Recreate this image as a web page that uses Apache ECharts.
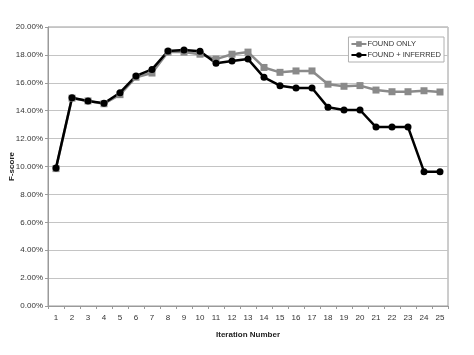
<!DOCTYPE html>
<html>
<head>
<meta charset="utf-8">
<script src="https://cdn.jsdelivr.net/npm/echarts@6/dist/echarts.min.js"></script>
<style>
  html, body { margin: 0; padding: 0; background: #fff; }
  #chart { width: 474px; height: 355px; }
</style>
</head>
<body>
<div id="chart"></div>
<script>
const iterations = ["1","2","3","4","5","6","7","8","9","10","11","12","13","14","15","16","17","18","19","20","21","22","23","24","25"];
// F-score in percent
const foundOnly = [9.85, 14.9, 14.7, 14.5, 15.15, 16.4, 16.7, 18.2, 18.2, 18.05, 17.7, 18.05, 18.2, 17.1, 16.75, 16.85, 16.85, 15.9, 15.75, 15.8, 15.48, 15.36, 15.36, 15.43, 15.34];
const foundInferred = [9.9, 14.93, 14.7, 14.53, 15.29, 16.49, 16.96, 18.28, 18.35, 18.26, 17.4, 17.56, 17.7, 16.39, 15.79, 15.63, 15.63, 14.24, 14.05, 14.05, 12.83, 12.83, 12.83, 9.63, 9.63];

const chart = echarts.init(document.getElementById("chart"), null, { renderer: "canvas" });

const font = "Liberation Sans, Arial, sans-serif";

chart.setOption({
  backgroundColor: "#fff",
  animation: false,
  textStyle: { fontFamily: font },
  grid: {
    left: 48, right: 26, top: 27, bottom: 49,
    outerBoundsMode: "none",
    containLabel: false,
    show: true, borderColor: "#9a9a9a", borderWidth: 1
  },
  legend: {
    orient: "vertical",
    right: 30, top: 37,
    padding: [3, 3, 3, 2],
    itemGap: 3,
    itemWidth: 15,
    itemHeight: 7,
    borderColor: "#b0b0b0",
    borderWidth: 1,
    backgroundColor: "#fff",
    textStyle: { fontFamily: font, fontSize: 7.5, color: "#333", padding: [0, 0, 0, -4] },
    data: ["FOUND ONLY", "FOUND + INFERRED"]
  },
  xAxis: {
    type: "category",
    data: iterations,
    boundaryGap: true,
    name: "Iteration Number",
    nameLocation: "middle",
    nameGap: 25,
    nameMoveOverlap: false,
    nameTextStyle: { fontFamily: font, fontSize: 8, fontWeight: "bold", color: "#222" },
    axisLine: { lineStyle: { color: "#9a9a9a", width: 1 } },
    axisTick: { show: true, length: 3, lineStyle: { color: "#9a9a9a" } },
    axisLabel: { fontFamily: font, fontSize: 8, color: "#333", margin: 8, interval: 0 },
    splitLine: { show: false }
  },
  yAxis: {
    type: "value",
    min: 0, max: 20, interval: 2,
    name: "F-score",
    nameLocation: "middle",
    nameGap: 32,
    nameMoveOverlap: false,
    nameRotate: 90,
    nameTextStyle: { fontFamily: font, fontSize: 8, fontWeight: "bold", color: "#222" },
    axisLine: { show: true, lineStyle: { color: "#9a9a9a", width: 1 } },
    axisTick: { show: true, length: 3, lineStyle: { color: "#9a9a9a" } },
    axisLabel: { fontFamily: font, fontSize: 8, color: "#333", margin: 5,
      formatter: (v) => v.toFixed(2) + "%" },
    splitLine: { lineStyle: { color: "#c4c4c4", width: 1 } }
  },
  series: [
    {
      name: "FOUND ONLY",
      type: "line",
      data: foundOnly,
      symbol: "rect",
      symbolSize: 7,
      lineStyle: { color: "#8a8a8a", width: 2.5 },
      itemStyle: { color: "#8a8a8a" }
    },
    {
      name: "FOUND + INFERRED",
      type: "line",
      data: foundInferred,
      symbol: "circle",
      symbolSize: 7,
      lineStyle: { color: "#000", width: 2.5 },
      itemStyle: { color: "#000" }
    }
  ]
});
</script>
</body>
</html>
